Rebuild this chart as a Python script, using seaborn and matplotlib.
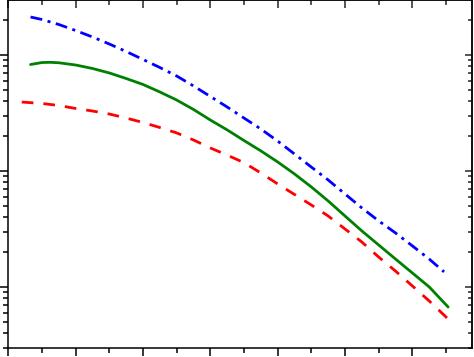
import numpy as np
import pandas as pd
import matplotlib
matplotlib.use("Agg")
import matplotlib.pyplot as plt
import seaborn as sns
from matplotlib.ticker import LogLocator, MultipleLocator, NullFormatter

# Data
x_blue = [0.33, 0.5, 0.75, 1.0, 1.25, 1.5, 1.75, 2.0, 2.25, 2.5, 2.75, 3.0, 3.25,
          3.5, 3.75, 4.0, 4.25, 4.5, 4.75, 5.0, 5.25, 5.5, 5.75, 6.0, 6.25, 6.47]
y_blue = [212.6, 202.3, 183.2, 162.6, 142.9, 124.4, 107.2, 91.5, 78.0, 65.9, 54.1,
          43.9, 35.6, 28.6, 23.0, 18.1, 14.0, 10.8, 8.36, 6.33, 4.80, 3.71, 2.92,
          2.26, 1.74, 1.35]

x_green = [0.33, 0.5, 0.62, 0.75, 1.0, 1.25, 1.5, 1.75, 2.0, 2.25, 2.5, 2.75, 3.0,
           3.25, 3.5, 3.75, 4.0, 4.25, 4.5, 4.75, 5.0, 5.25, 5.5, 5.75, 6.0, 6.25, 6.53]
y_green = [82.8, 86.1, 86.5, 85.7, 82.0, 76.5, 70.0, 62.7, 55.7, 48.0, 40.9, 33.9,
           27.5, 22.6, 18.3, 14.9, 11.96, 9.42, 7.28, 5.51, 4.09, 3.04, 2.30, 1.74,
           1.32, 1.00, 0.672]

x_red = [0.2, 0.5, 0.75, 1.0, 1.25, 1.5, 1.75, 2.0, 2.25, 2.5, 2.75, 3.0, 3.25,
         3.5, 3.75, 4.0, 4.25, 4.5, 4.75, 5.0, 5.25, 5.5, 5.75, 6.0, 6.25, 6.53]
y_red = [39.3, 38.2, 36.7, 34.6, 32.9, 31.0, 28.6, 26.2, 23.7, 21.3, 18.5, 15.8,
         13.7, 11.8, 9.61, 7.73, 6.27, 5.09, 4.09, 3.16, 2.44, 1.81, 1.37, 1.02,
         0.757, 0.530]

df = pd.concat([
    pd.DataFrame({"x": x_blue, "y": y_blue, "s": "blue"}),
    pd.DataFrame({"x": x_green, "y": y_green, "s": "green"}),
    pd.DataFrame({"x": x_red, "y": y_red, "s": "red"}),
], ignore_index=True)

sns.set_style("ticks")
fig = plt.figure(figsize=(4.74, 3.57), dpi=100)
ax = fig.add_axes([8.3 / 474, 9.0 / 357, (471.5 - 8.3) / 474, 1 - 9.0 / 357])

palette = {"blue": "#0000FF", "green": "#008000", "red": "#FF0000"}
dashes = {"blue": (4.3, 2.0, 1.1, 2.0), "green": "", "red": (4.2, 3.6)}
sns.lineplot(data=df, x="x", y="y", hue="s", style="s", palette=palette,
             dashes=dashes, linewidth=2.0, legend=False, ax=ax, sort=False)

ax.set_yscale("log")
ax.set_xlim(0, 6.877)
ax.set_ylim(10 ** (-61 / 116), 10 ** (2 + 55 / 116))
ax.set_xlabel("")
ax.set_ylabel("")

ax.xaxis.set_major_locator(MultipleLocator(1))
ax.xaxis.set_minor_locator(MultipleLocator(0.5))
ax.yaxis.set_major_locator(LogLocator(base=10, numticks=20))
ax.yaxis.set_minor_locator(LogLocator(base=10, subs=np.arange(2, 10), numticks=20))
for axis in (ax.xaxis, ax.yaxis):
    axis.set_major_formatter(NullFormatter())
    axis.set_minor_formatter(NullFormatter())

for sp in ax.spines.values():
    sp.set_visible(True)
    sp.set_linewidth(1.1)
    sp.set_color("black")

ax.tick_params(which="major", direction="out", length=5.8, width=1.1,
               bottom=True, left=True, top=False, right=False, color="black")
ax.tick_params(which="minor", direction="out", length=3.6, width=1.1,
               bottom=True, left=True, top=False, right=False, color="black")

# mirrored inward ticks on top and right
secx = ax.secondary_xaxis("top")
secx.xaxis.set_major_locator(MultipleLocator(1))
secx.xaxis.set_minor_locator(MultipleLocator(0.5))
secx.xaxis.set_major_formatter(NullFormatter())
secx.xaxis.set_minor_formatter(NullFormatter())
secx.tick_params(which="major", direction="in", length=5.8, width=1.1)
secx.tick_params(which="minor", direction="in", length=3.6, width=1.1)
secx.spines["top"].set_linewidth(1.1)

secy = ax.secondary_yaxis("right")
secy.yaxis.set_major_locator(LogLocator(base=10, numticks=20))
secy.yaxis.set_minor_locator(LogLocator(base=10, subs=np.arange(2, 10), numticks=20))
secy.yaxis.set_major_formatter(NullFormatter())
secy.yaxis.set_minor_formatter(NullFormatter())
secy.tick_params(which="major", direction="in", length=5.0, width=1.1)
secy.tick_params(which="minor", direction="in", length=2.6, width=1.1)
secy.spines["right"].set_linewidth(1.1)

fig.savefig("out.png", dpi=100)
